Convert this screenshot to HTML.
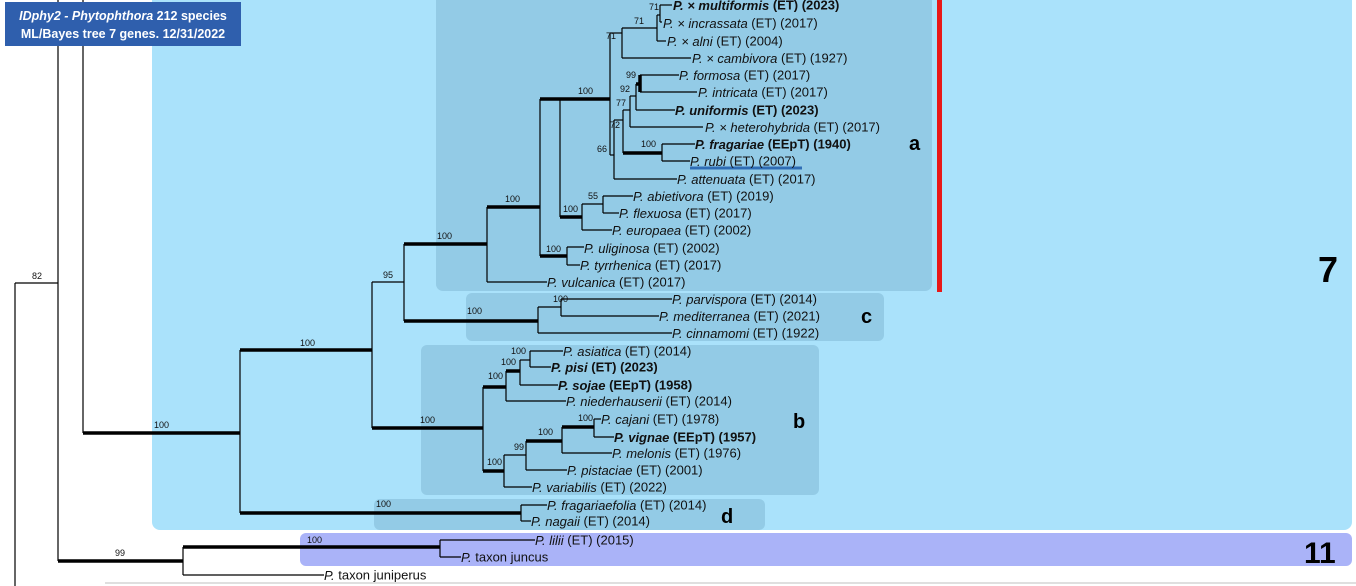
<!DOCTYPE html>
<html><head><meta charset="utf-8"><style>
html,body{margin:0;padding:0;background:#fff;width:1356px;height:586px;overflow:hidden}
svg{display:block;font-family:"Liberation Sans",Arial,sans-serif}
.l{font-size:13px;fill:#111}
.s{font-size:9px;fill:#111}
.b{font-weight:bold}
line{stroke:#000;stroke-width:1.2}
.t{stroke-width:3.5}
</style></head><body>
<svg width="1356" height="586" viewBox="0 0 1356 586">
<rect x="152" y="-10" width="1200" height="540" rx="8" fill="#aae2fb"/>
<rect x="436" y="-10" width="496" height="301" rx="7" fill="#93cbe6"/>
<rect x="466" y="293" width="418" height="48" rx="6" fill="#93cbe6"/>
<rect x="421" y="345" width="398" height="150" rx="6" fill="#93cbe6"/>
<rect x="374" y="499" width="391" height="31" rx="6" fill="#93cbe6"/>
<rect x="300" y="533" width="1052" height="33" rx="6" fill="#aab3f8"/>
<rect x="937" y="0" width="5" height="292" fill="#e81818"/>
<line x1="105" y1="583" x2="1356" y2="583" style="stroke:#ccc"/>
<text x="1318" y="282" style="font-size:36px;font-weight:bold">7</text>
<text x="1304" y="563" style="font-size:30px;font-weight:bold">11</text>
<text x="909" y="150" style="font-size:20px;font-weight:bold">a</text>
<text x="861" y="323" style="font-size:20px;font-weight:bold">c</text>
<text x="793" y="428" style="font-size:20px;font-weight:bold">b</text>
<text x="721" y="523" style="font-size:20px;font-weight:bold">d</text>

<!-- backbone -->
<line x1="15" y1="283" x2="15" y2="586"/><line x1="15" y1="283" x2="58" y2="283"/>
<line x1="58" y1="0" x2="58" y2="561"/><line x1="83" y1="0" x2="83" y2="433"/>
<line class="t" x1="83" y1="433" x2="240" y2="433"/>
<line x1="240" y1="350" x2="240" y2="513"/>
<line class="t" x1="240" y1="350" x2="372" y2="350"/>
<line x1="372" y1="282" x2="372" y2="428"/>
<line x1="372" y1="282" x2="404" y2="282"/>
<line x1="404" y1="244" x2="404" y2="321"/>
<line class="t" x1="404" y1="244" x2="487" y2="244"/>
<line class="t" x1="404" y1="321" x2="538" y2="321"/>
<!-- a -->
<line x1="487" y1="207" x2="487" y2="282"/><line x1="487" y1="282" x2="547" y2="282"/>
<line class="t" x1="487" y1="207" x2="540" y2="207"/>
<line x1="540" y1="99" x2="540" y2="256"/>
<line class="t" x1="540" y1="256" x2="567" y2="256"/>
<line x1="567" y1="247" x2="567" y2="265"/><line x1="567" y1="247" x2="584" y2="247"/><line x1="567" y1="265" x2="580" y2="265"/>
<line class="t" x1="540" y1="99" x2="610" y2="99"/>
<line class="t" x1="560" y1="217" x2="560" y2="217"/>
<line x1="560" y1="99" x2="560" y2="217"/>
<line class="t" x1="560" y1="217" x2="582" y2="217"/>
<line x1="582" y1="204" x2="582" y2="230"/><line x1="582" y1="230" x2="612" y2="230"/>
<line x1="582" y1="204" x2="603" y2="204"/>
<line x1="603" y1="196" x2="603" y2="213"/><line x1="603" y1="196" x2="633" y2="196"/><line x1="603" y1="213" x2="619" y2="213"/>
<line x1="610" y1="33" x2="610" y2="155"/>
<line x1="610" y1="33" x2="622" y2="33"/><line x1="622" y1="28" x2="622" y2="58"/><line x1="622" y1="58" x2="691" y2="58"/>
<line x1="622" y1="28" x2="657" y2="28"/><line x1="657" y1="15" x2="657" y2="41"/><line x1="657" y1="41" x2="666" y2="41"/>
<line x1="657" y1="15" x2="660" y2="15"/><line x1="660" y1="5" x2="660" y2="22"/><line x1="660" y1="5" x2="672" y2="5"/><line x1="660" y1="22" x2="662" y2="22"/>
<line x1="610" y1="155" x2="614" y2="155"/>
<line x1="614" y1="120" x2="614" y2="179"/><line x1="614" y1="179" x2="677" y2="179"/>
<line x1="614" y1="120" x2="623" y2="120"/>
<line x1="623" y1="110" x2="623" y2="153"/>
<line class="t" x1="623" y1="153" x2="662" y2="153"/>
<line x1="662" y1="144" x2="662" y2="161"/><line x1="662" y1="144" x2="695" y2="144"/><line x1="662" y1="161" x2="690" y2="161"/>
<line x1="623" y1="110" x2="630" y2="110"/>
<line x1="630" y1="96" x2="630" y2="127"/><line x1="630" y1="127" x2="703" y2="127"/>
<line x1="630" y1="96" x2="636" y2="96"/>
<line x1="636" y1="84" x2="636" y2="110"/><line x1="636" y1="110" x2="675" y2="110"/>
<line class="t" x1="636" y1="84" x2="640" y2="84"/>
<line class="t" x1="640" y1="75" x2="640" y2="92"/><line x1="640" y1="75" x2="679" y2="75"/><line x1="640" y1="92" x2="697" y2="92"/>
<!-- c -->
<line x1="538" y1="307" x2="538" y2="333"/><line x1="538" y1="333" x2="672" y2="333"/>
<line x1="538" y1="307" x2="561" y2="307"/><line x1="561" y1="299" x2="561" y2="316"/>
<line x1="561" y1="299" x2="672" y2="299"/><line x1="561" y1="316" x2="659" y2="316"/>
<!-- b -->
<line class="t" x1="372" y1="428" x2="483" y2="428"/>
<line x1="483" y1="387" x2="483" y2="471"/>
<line class="t" x1="483" y1="387" x2="506" y2="387"/>
<line x1="506" y1="371" x2="506" y2="401"/><line x1="506" y1="401" x2="566" y2="401"/>
<line class="t" x1="506" y1="371" x2="520" y2="371"/>
<line x1="520" y1="360" x2="520" y2="385"/><line x1="520" y1="385" x2="558" y2="385"/>
<line x1="520" y1="360" x2="530" y2="360"/><line x1="530" y1="351" x2="530" y2="367"/>
<line x1="530" y1="351" x2="563" y2="351"/><line x1="530" y1="367" x2="551" y2="367"/>
<line class="t" x1="483" y1="471" x2="504" y2="471"/>
<line x1="504" y1="455" x2="504" y2="487"/><line x1="504" y1="487" x2="532" y2="487"/>
<line x1="504" y1="455" x2="526" y2="455"/>
<line x1="526" y1="441" x2="526" y2="470"/><line x1="526" y1="470" x2="567" y2="470"/>
<line class="t" x1="526" y1="441" x2="562" y2="441"/>
<line x1="562" y1="427" x2="562" y2="453"/><line x1="562" y1="453" x2="612" y2="453"/>
<line class="t" x1="562" y1="427" x2="594" y2="427"/>
<line x1="594" y1="419" x2="594" y2="437"/><line x1="594" y1="419" x2="601" y2="419"/><line x1="594" y1="437" x2="614" y2="437"/>
<!-- d -->
<line class="t" x1="240" y1="513" x2="521" y2="513"/>
<line x1="521" y1="505" x2="521" y2="521"/><line x1="521" y1="505" x2="547" y2="505"/><line x1="521" y1="521" x2="531" y2="521"/>
<!-- 11 -->
<line class="t" x1="58" y1="561" x2="183" y2="561"/>
<line x1="183" y1="547" x2="183" y2="575"/><line x1="183" y1="575" x2="324" y2="575"/>
<line class="t" x1="183" y1="547" x2="440" y2="547"/>
<line x1="440" y1="540" x2="440" y2="557"/><line x1="440" y1="540" x2="535" y2="540"/><line x1="440" y1="557" x2="461" y2="557"/>
<line x1="690" y1="168" x2="802" y2="168" style="stroke:#2f6db5;stroke-width:3"/>

<!-- supports -->
<g class="s">
<text x="32" y="279">82</text><text x="115" y="556">99</text>
<text x="154" y="428">100</text><text x="300" y="346">100</text><text x="383" y="278">95</text>
<text x="437" y="239">100</text><text x="505" y="202">100</text><text x="578" y="94">100</text>
<text x="546" y="252">100</text><text x="563" y="212">100</text><text x="588" y="199">55</text>
<text x="606" y="39">71</text><text x="634" y="24">71</text><text x="649" y="10">71</text>
<text x="597" y="152">66</text><text x="610" y="128">72</text><text x="616" y="106">77</text>
<text x="620" y="92">92</text><text x="626" y="78">99</text><text x="641" y="147">100</text>
<text x="467" y="314">100</text><text x="553" y="302">100</text>
<text x="420" y="423">100</text><text x="488" y="379">100</text><text x="501" y="365">100</text>
<text x="511" y="354">100</text><text x="487" y="465">100</text><text x="514" y="450">99</text>
<text x="538" y="435">100</text><text x="578" y="421">100</text>
<text x="376" y="507">100</text><text x="307" y="543">100</text>
</g>
<!-- labels -->
<g class="l" dominant-baseline="central">
<text x="673" y="5" class="b"><tspan font-style="italic">P. × multiformis</tspan> (ET) (2023)</text>
<text x="663" y="23"><tspan font-style="italic">P. × incrassata</tspan> (ET) (2017)</text>
<text x="667" y="41"><tspan font-style="italic">P. × alni</tspan> (ET) (2004)</text>
<text x="692" y="58"><tspan font-style="italic">P. × cambivora</tspan> (ET) (1927)</text>
<text x="679" y="75"><tspan font-style="italic">P. formosa</tspan> (ET) (2017)</text>
<text x="698" y="92"><tspan font-style="italic">P. intricata</tspan> (ET) (2017)</text>
<text x="675" y="110" class="b"><tspan font-style="italic">P. uniformis</tspan> (ET) (2023)</text>
<text x="705" y="127"><tspan font-style="italic">P. × heterohybrida</tspan> (ET) (2017)</text>
<text x="695" y="144" class="b"><tspan font-style="italic">P. fragariae</tspan> (EEpT) (1940)</text>
<text x="690" y="161"><tspan font-style="italic">P. rubi</tspan> (ET) (2007)</text>
<text x="677" y="179"><tspan font-style="italic">P. attenuata</tspan> (ET) (2017)</text>
<text x="633" y="196"><tspan font-style="italic">P. abietivora</tspan> (ET) (2019)</text>
<text x="619" y="213"><tspan font-style="italic">P. flexuosa</tspan> (ET) (2017)</text>
<text x="612" y="230"><tspan font-style="italic">P. europaea</tspan>  (ET) (2002)</text>
<text x="584" y="248"><tspan font-style="italic">P. uliginosa</tspan> (ET) (2002)</text>
<text x="580" y="265"><tspan font-style="italic">P. tyrrhenica</tspan> (ET) (2017)</text>
<text x="547" y="282"><tspan font-style="italic">P. vulcanica</tspan> (ET) (2017)</text>
<text x="672" y="299"><tspan font-style="italic">P. parvispora</tspan> (ET) (2014)</text>
<text x="659" y="316"><tspan font-style="italic">P. mediterranea</tspan> (ET) (2021)</text>
<text x="672" y="333"><tspan font-style="italic">P. cinnamomi</tspan> (ET) (1922)</text>
<text x="563" y="351"><tspan font-style="italic">P. asiatica</tspan> (ET) (2014)</text>
<text x="551" y="367" class="b"><tspan font-style="italic">P. pisi</tspan> (ET) (2023)</text>
<text x="558" y="385" class="b"><tspan font-style="italic">P. sojae</tspan> (EEpT) (1958)</text>
<text x="566" y="401"><tspan font-style="italic">P. niederhauserii</tspan> (ET) (2014)</text>
<text x="601" y="419"><tspan font-style="italic">P. cajani</tspan> (ET) (1978)</text>
<text x="614" y="437" class="b"><tspan font-style="italic">P. vignae</tspan> (EEpT) (1957)</text>
<text x="612" y="453"><tspan font-style="italic">P. melonis</tspan> (ET) (1976)</text>
<text x="567" y="470"><tspan font-style="italic">P. pistaciae</tspan> (ET) (2001)</text>
<text x="532" y="487"><tspan font-style="italic">P. variabilis</tspan> (ET) (2022)</text>
<text x="547" y="505"><tspan font-style="italic">P. fragariaefolia</tspan> (ET) (2014)</text>
<text x="531" y="521"><tspan font-style="italic">P. nagaii</tspan> (ET) (2014)</text>
<text x="535" y="540"><tspan font-style="italic">P. lilii</tspan> (ET) (2015)</text>
<text x="461" y="557"><tspan font-style="italic">P.</tspan> taxon juncus</text>
<text x="324" y="575"><tspan font-style="italic">P.</tspan> taxon juniperus</text>
</g>
<!-- title -->
<rect x="5" y="2" width="236" height="44" fill="#2f5fad"/>
<text x="123" y="20" text-anchor="middle" style="font-size:12.5px;font-weight:bold;fill:#fff"><tspan font-style="italic">IDphy2 - Phytophthora</tspan> 212 species</text>
<text x="123" y="38" text-anchor="middle" style="font-size:12.5px;font-weight:bold;fill:#fff">ML/Bayes tree 7 genes. 12/31/2022</text>
</svg>
</body></html>
